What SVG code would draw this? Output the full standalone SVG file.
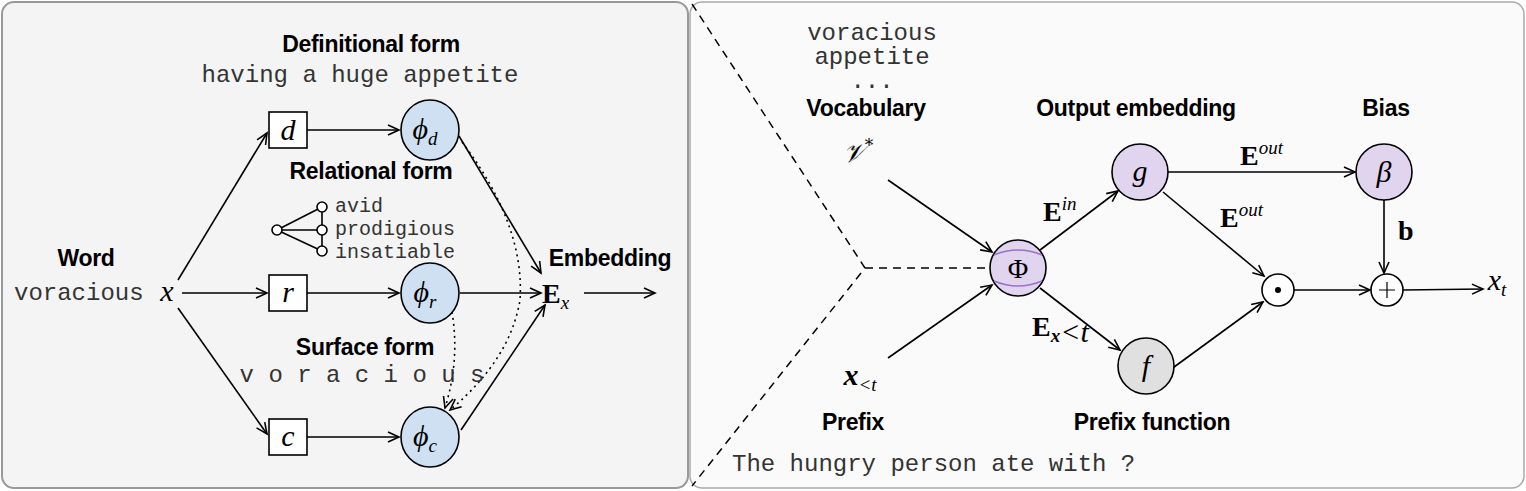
<svg xmlns="http://www.w3.org/2000/svg" width="1526" height="491" viewBox="0 0 1526 491">
<style>
.b{font-family:"Liberation Sans",Arial,sans-serif;font-weight:bold;font-size:23px;text-anchor:middle;letter-spacing:-0.3px}
.m{font-family:"Liberation Mono","Courier New",monospace;font-size:24px;fill:#333}
.rel{font-size:20px}
.math{font-family:"Liberation Serif","Times New Roman",serif;font-style:italic;font-size:30px;text-anchor:middle}
.mb{font-family:"Liberation Serif","Times New Roman",serif;font-weight:bold;font-size:28px}
.sub{font-size:19px}
.ln{stroke:#000;stroke-width:1.6;fill:none}
.dot{stroke:#000;stroke-width:1.6;fill:none;stroke-dasharray:2 4}
.dash{stroke:#000;stroke-width:1.5;fill:none;stroke-dasharray:8 6}
.nd{stroke:#000;stroke-width:1.6}
</style>
<defs>
<marker id="a" markerWidth="14" markerHeight="12" refX="12" refY="6" orient="auto" markerUnits="userSpaceOnUse"><path d="M1,1 L12,6 L1,11" fill="none" stroke="#000" stroke-width="1.6"/></marker>
</defs>
<rect x="2" y="2" width="686" height="486" rx="12" fill="#f4f4f4" stroke="#999" stroke-width="2"/>
<rect x="690" y="2" width="834" height="486" rx="12" fill="#fafafa" stroke="#aaa" stroke-width="1.5"/>
<g id="connectors">
<path class="ln" d="M178,280 L267,133" marker-end="url(#a)"/>
<path class="ln" d="M182,293 L267,293" marker-end="url(#a)"/>
<path class="ln" d="M178,308 L267,434" marker-end="url(#a)"/>
<path class="ln" d="M307,130 L399,130" marker-end="url(#a)"/>
<path class="ln" d="M307,293 L399,293" marker-end="url(#a)"/>
<path class="ln" d="M307,437 L399,437" marker-end="url(#a)"/>
<path class="ln" d="M459,136 L541,273" marker-end="url(#a)"/>
<path class="ln" d="M460,293 L541,293" marker-end="url(#a)"/>
<path class="ln" d="M461,430 L545,305" marker-end="url(#a)"/>
<path class="ln" d="M584,293 L655,293" marker-end="url(#a)"/>
<path class="dot" d="M462,142 Q525,225 520,300 Q510,360 450,410" marker-end="url(#a)"/>
<path class="dot" d="M452,312 Q460,360 445,408" marker-end="url(#a)"/>
<path class="ln" d="M322,207 L277,230 L322,230 M277,230 L322,251 M322,207 L322,251"/>
<path class="dash" d="M692,4 L865,268 L692,486 M865,268 L990,268"/>
<path class="ln" d="M888,180 L992,252" marker-end="url(#a)"/>
<path class="ln" d="M888,358 L992,285" marker-end="url(#a)"/>
<path class="ln" d="M1040,250 L1118,191" marker-end="url(#a)"/>
<path class="ln" d="M1040,288 L1120,350" marker-end="url(#a)"/>
<path class="ln" d="M1168,172 L1355,172" marker-end="url(#a)"/>
<path class="ln" d="M1163,192 L1264,276" marker-end="url(#a)"/>
<path class="ln" d="M1170,370 L1263,302" marker-end="url(#a)"/>
<path class="ln" d="M1294,290 L1370,290" marker-end="url(#a)"/>
<path class="ln" d="M1384,200 L1384,273" marker-end="url(#a)"/>
<path class="ln" d="M1403,290 L1483,289" marker-end="url(#a)"/>
</g>
<text class="b" x="371" y="52">Definitional form</text>
<text class="m" x="360" y="82" text-anchor="middle">having a huge appetite</text>
<text class="b" x="371" y="179">Relational form</text>
<text class="m rel" x="335" y="212">avid</text>
<text class="m rel" x="335" y="235">prodigious</text>
<text class="m rel" x="335" y="258">insatiable</text>
<g fill="#fff" stroke="#000" stroke-width="1.6"><circle cx="277" cy="230" r="5"/><circle cx="322" cy="207" r="5"/><circle cx="322" cy="230" r="5"/><circle cx="322" cy="251" r="5"/></g>
<text class="b" x="86" y="266">Word</text>
<text class="m" x="14" y="300">voracious</text>
<text class="math" x="167" y="301">x</text>
<text class="b" x="365" y="355">Surface form</text>
<text class="m" x="362" y="382" text-anchor="middle" xml:space="preserve">v o r a c i o u s</text>
<text class="b" x="610" y="266">Embedding</text>
<text x="542" y="303"><tspan class="mb">E</tspan><tspan class="math sub" dy="6">x</tspan></text>
<g id="box-d"><rect class="nd" x="269" y="112" width="38" height="36" fill="#fff"/><text class="math" x="288" y="140">d</text></g>
<g id="box-r"><rect class="nd" x="269" y="275" width="38" height="36" fill="#fff"/><text class="math" x="288" y="302">r</text></g>
<g id="box-c"><rect class="nd" x="269" y="419" width="38" height="36" fill="#fff"/><text class="math" x="288" y="446">c</text></g>
<g id="phi-d"><ellipse class="nd" cx="430" cy="130" rx="29" ry="30" fill="#cfe0f3"/><text class="math" x="425" y="139">ϕ<tspan class="sub" dy="6">d</tspan></text></g>
<g id="phi-r"><ellipse class="nd" cx="430" cy="293" rx="29" ry="30" fill="#cfe0f3"/><text class="math" x="425" y="302">ϕ<tspan class="sub" dy="6">r</tspan></text></g>
<g id="phi-c"><ellipse class="nd" cx="430" cy="437" rx="29" ry="30" fill="#cfe0f3"/><text class="math" x="425" y="446">ϕ<tspan class="sub" dy="6">c</tspan></text></g>
<text class="m" x="872" y="40" text-anchor="middle">voracious</text>
<text class="m" x="872" y="64" text-anchor="middle">appetite</text>
<text class="m" x="872" y="88" text-anchor="middle">...</text>
<text class="b" x="866" y="116">Vocabulary</text>
<text x="858" y="162" font-family="DejaVu Serif,serif" font-style="italic" font-size="26" text-anchor="middle">𝒱<tspan font-size="17" dy="-11">*</tspan></text>
<text class="math" x="860" y="385" font-weight="bold">x<tspan class="sub" font-weight="normal" dy="6">&lt;t</tspan></text>
<text class="b" x="853" y="430">Prefix</text>
<text class="b" x="1136" y="116">Output embedding</text>
<text class="b" x="1386" y="116">Bias</text>
<text class="b" x="1152" y="430">Prefix function</text>
<text class="m" x="732" y="471">The hungry person ate with ?</text>
<text x="1043" y="221"><tspan class="mb">E</tspan><tspan class="math sub" dy="-11">in</tspan></text>
<text x="1240" y="165"><tspan class="mb">E</tspan><tspan class="math sub" dy="-11">out</tspan></text>
<text x="1220" y="227"><tspan class="mb">E</tspan><tspan class="math sub" dy="-11">out</tspan></text>
<text x="1032" y="336"><tspan class="mb">E</tspan><tspan class="math sub" font-weight="bold" dy="6">x</tspan><tspan class="math" font-size="14">&lt;t</tspan></text>
<text class="mb" x="1398" y="240">b</text>
<text class="math" x="1497" y="290">x<tspan class="sub" dy="6">t</tspan></text>
<g id="Phi"><circle class="nd" cx="1018" cy="268" r="28" fill="#e0d4ef"/><path d="M994,255 Q1018,245 1042,255 M994,281 Q1018,291 1042,281" stroke="#9a70c8" stroke-width="1.5" fill="none"/><text x="1018" y="278" font-family="Liberation Serif,serif" font-size="28" text-anchor="middle">Φ</text></g>
<g id="g"><circle class="nd" cx="1140" cy="172" r="28" fill="#e0d4ef"/><text class="math" x="1140" y="181">g</text></g>
<g id="beta"><circle class="nd" cx="1384" cy="172" r="28" fill="#e0d4ef"/><text class="math" x="1384" y="182">β</text></g>
<g id="f"><circle class="nd" cx="1146" cy="366" r="28" fill="#e0e0e0"/><text class="math" x="1146" y="376">f</text></g>
<g id="odot"><circle class="nd" cx="1278" cy="290" r="16" fill="#fff"/><circle cx="1278" cy="290" r="3" fill="#000"/></g>
<g id="plus"><circle class="nd" cx="1387" cy="290" r="16" fill="#fff"/><path d="M1379,290 H1395 M1387,282 V298" stroke="#000" stroke-width="1.2"/></g>
</svg>
